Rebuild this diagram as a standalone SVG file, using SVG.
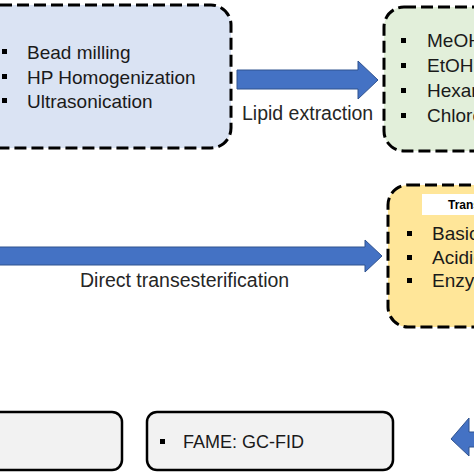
<svg xmlns="http://www.w3.org/2000/svg" width="474" height="474" viewBox="0 0 474 474">
<style>
.dash{stroke:#000;stroke-width:3;stroke-dasharray:12 5}
.solid{stroke:#000;stroke-width:2.5}
.t{font-family:"Liberation Sans",Arial,sans-serif;font-size:19px;fill:#1a1a1a}
.lbl{font-family:"Liberation Sans",Arial,sans-serif;font-size:19.5px;fill:#262626}
.hdr{font-family:"Liberation Sans",Arial,sans-serif;font-size:12px;font-weight:bold;fill:#000}
.arrow{fill:#4472c4;stroke:#2f528f;stroke-width:1}
.bul{fill:#000}
</style>
<rect width="474" height="474" fill="#fff"/>
<g id="connectors">
<polygon class="arrow" points="237,70 358,70 358,61 378,80 358,99 358,89 237,89"/>
<polygon class="arrow" points="-5,247 365,247 365,240 382,256 365,272 365,265 -5,265"/>
<polygon class="arrow" points="480,432 469,432 469,418 451,439 469,456 469,447 480,447"/>
<text class="lbl" x="242" y="120">Lipid extraction</text>
<text class="lbl" x="80" y="287">Direct transesterification</text>
</g>
<g id="disruption">
<rect class="dash" x="-20" y="5" width="251" height="143" rx="20" fill="#dae3f3"/>
<rect class="bul" x="2" y="49" width="5" height="5"/>
<rect class="bul" x="2" y="74" width="5" height="5"/>
<rect class="bul" x="2" y="98" width="5" height="5"/>
<text class="t" x="27" y="59">Bead milling</text>
<text class="t" x="27" y="84">HP Homogenization</text>
<text class="t" x="27" y="108">Ultrasonication</text>
</g>
<g id="solvents">
<rect class="dash" x="384" y="7" width="140" height="144" rx="20" fill="#e2efda"/>
<rect class="bul" x="401" y="38" width="5" height="5"/>
<rect class="bul" x="401" y="63" width="5" height="5"/>
<rect class="bul" x="401" y="88" width="5" height="5"/>
<rect class="bul" x="401" y="113" width="5" height="5"/>
<text class="t" x="427" y="47">MeOH</text>
<text class="t" x="427" y="72">EtOH</text>
<text class="t" x="427" y="97">Hexane</text>
<text class="t" x="427" y="122">Chloroform</text>
</g>
<g id="transesterification">
<rect class="dash" x="388" y="185" width="140" height="142" rx="20" fill="#ffe699"/>
<rect x="422" y="194" width="60" height="21" fill="#fff"/>
<text class="hdr" x="448" y="209">Transesterification</text>
<rect class="bul" x="407" y="231" width="5" height="5"/>
<rect class="bul" x="407" y="255" width="5" height="5"/>
<rect class="bul" x="407" y="278" width="5" height="5"/>
<text class="t" x="432" y="240">Basic</text>
<text class="t" x="432" y="264">Acidic</text>
<text class="t" x="432" y="287">Enzymatic</text>
</g>
<g id="analysis-left">
<rect class="solid" x="-20" y="412" width="142" height="58" rx="10" fill="#f2f2f2"/>
</g>
<g id="analysis-fame">
<rect class="solid" x="147" y="412" width="246" height="58" rx="10" fill="#f2f2f2"/>
<rect class="bul" x="160" y="439" width="5" height="5"/>
<text class="t" x="183" y="448" style="font-size:18px">FAME: GC-FID</text>
</g>
</svg>
